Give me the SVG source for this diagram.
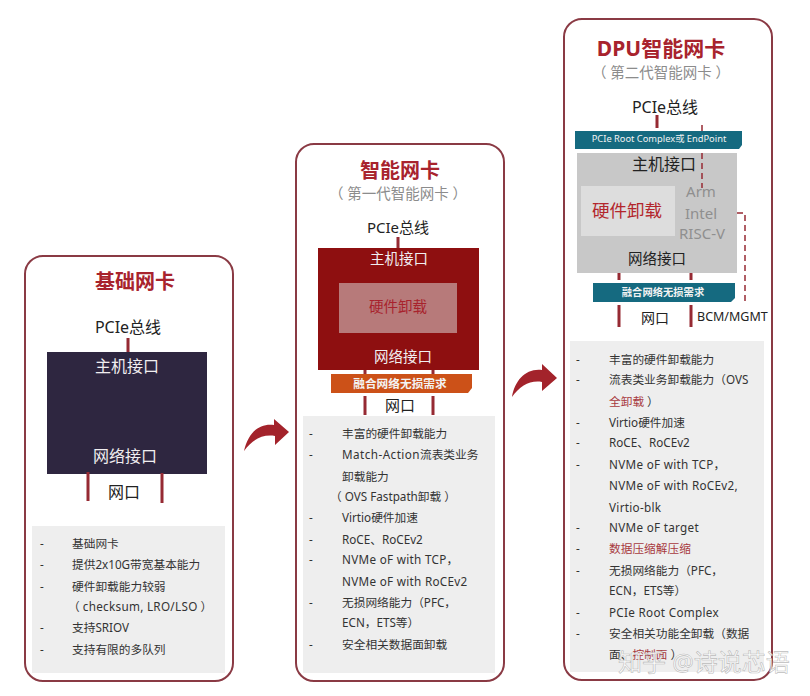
<svg xmlns="http://www.w3.org/2000/svg" width="810" height="696" viewBox="0 0 810 696">
<style>
text{font-family:"Noto Sans","Noto Sans CJK SC",sans-serif;fill:#222}
.card{fill:#fff;stroke:#8a3a44;stroke-width:2}
.panel{fill:#eeeeee}
.title{font-size:20px;font-weight:700;fill:#a8232d;text-anchor:middle}
.sub{font-size:14.5px;fill:#8c8c8c;text-anchor:middle}
.lab{font-size:16px;text-anchor:middle}
.w{fill:#f1eef0}
.li{font-size:11.7px;fill:#333}
.l{letter-spacing:.3px}
.red{fill:#a83a3f}
.band{font-size:11.7px;font-weight:700;fill:#f3f3f3;text-anchor:middle}
.conn{stroke:#962a33;stroke-width:3;fill:none}
.dash{stroke:#962a33;stroke-width:1.5;stroke-dasharray:6 4;fill:none}
.arrow{fill:#a3232b}
</style>
<rect width="810" height="696" fill="#fff"/>
<g id="card-basic">
<rect class="card" x="25" y="256" width="208" height="425" rx="18"/>
<text class="title" x="135" y="289">基础网卡</text>
<text class="lab" x="128" y="333">PCIe总线</text>
<rect x="47" y="352" width="160" height="122" fill="#2e2640"/>
<text class="lab w" x="127" y="372">主机接口</text>
<text class="lab w" x="125" y="462">网络接口</text>
<text class="lab" x="124" y="498">网口</text>
<rect class="panel" x="32" y="526" width="193" height="147"/>
<text class="li" x="40" y="548">-</text><text class="li" x="72" y="548">基础网卡</text>
<text class="li" x="40" y="569">-</text><text class="li" x="72" y="569">提供2x10G带宽基本能力</text>
<text class="li" x="40" y="591">-</text><text class="li" x="72" y="591">硬件卸载能力较弱</text>
<text class="li" x="68" y="611">（ <tspan class="l">checksum, LRO/LSO</tspan> ）</text>
<text class="li" x="40" y="632">-</text><text class="li" x="72" y="632">支持SRIOV</text>
<text class="li" x="40" y="654">-</text><text class="li" x="72" y="654">支持有限的多队列</text>
</g>
<g id="card-smart">
<rect class="card" x="296" y="144" width="208" height="537" rx="18"/>
<text class="title" x="400" y="178">智能网卡</text>
<text class="sub" x="398" y="199">（ 第一代智能网卡 ）</text>
<text class="lab" x="398" y="233" style="font-size:15px">PCIe总线</text>
<rect x="318" y="248" width="161" height="122" fill="#8e0f10"/>
<text class="lab w" x="399" y="264" style="font-size:14.5px">主机接口</text>
<rect x="339" y="283" width="118" height="50" fill="#b77a7a"/>
<text class="lab" x="398" y="312" style="fill:#a8232d;font-size:14.5px">硬件卸载</text>
<text class="lab w" x="403" y="362" style="font-size:14.5px">网络接口</text>
<path d="M331 374H472V388L468 393H331Z" fill="#cc5118"/>
<text class="band" x="400" y="388">融合网络无损需求</text>
<text class="lab" x="400" y="411" style="font-size:15px">网口</text>
<rect class="panel" x="303" y="416" width="192" height="257"/>
<text class="li" x="309" y="438">-</text><text class="li" x="342" y="438">丰富的硬件卸载能力</text>
<text class="li" x="309" y="459">-</text><text class="li" x="342" y="459"><tspan class="l" style="letter-spacing:.45px">Match-Action</tspan>流表类业务</text>
<text class="li" x="342" y="481">卸载能力</text>
<text class="li" x="330" y="501">（ OVS Fastpath卸载 ）</text>
<text class="li" x="309" y="522">-</text><text class="li" x="342" y="522">Virtio硬件加速</text>
<text class="li" x="309" y="544">-</text><text class="li" x="342" y="544">RoCE、RoCEv2</text>
<text class="li" x="309" y="564">-</text><text class="li" x="342" y="564"><tspan class="l">NVMe oF with TCP</tspan>，</text>
<text class="li l" x="342" y="586">NVMe oF with RoCEv2</text>
<text class="li" x="309" y="607">-</text><text class="li" x="342" y="607">无损网络能力（PFC，</text>
<text class="li" x="342" y="627">ECN，ETS等）</text>
<text class="li" x="309" y="649">-</text><text class="li" x="342" y="649">安全相关数据面卸载</text>
</g>
<g id="card-dpu">
<rect class="card" x="564" y="19" width="208" height="661" rx="18"/>
<text class="title" x="661" y="56" style="font-size:21px">DPU智能网卡</text>
<text class="sub" x="661" y="78">（ 第二代智能网卡 ）</text>
<text class="lab" x="665" y="113">PCIe总线</text>
<path d="M575 131H742V145L739 149H575Z" fill="#156a80"/>
<text class="band" x="659" y="142" style="font-size:9.3px;font-weight:400">PCIe Root Complex或 EndPoint</text>
<rect x="577" y="153" width="160" height="120" fill="#c8c8c8"/>
<text class="lab" x="664" y="170">主机接口</text>
<rect x="581" y="186" width="94" height="50" fill="#dddddd"/>
<text class="lab" x="627" y="217" style="fill:#b3262c;font-size:17.5px">硬件卸载</text>
<text class="lab" x="701" y="197" style="fill:#8f8f8f;font-size:15px">Arm</text>
<text class="lab" x="701" y="219" style="fill:#8f8f8f;font-size:15px">Intel</text>
<text class="lab" x="702" y="239" style="fill:#8f8f8f;font-size:15px">RISC-V</text>
<text class="lab" x="657" y="264" style="font-size:14.5px">网络接口</text>
<path d="M593 283H735V298L731 302H593Z" fill="#156a80"/>
<text class="band" x="663" y="296" style="font-size:10.3px">融合网络无损需求</text>
<text class="lab" x="655" y="323" style="font-size:14px">网口</text>
<text x="697" y="321" style="font-size:12.5px">BCM/MGMT</text>
<rect class="panel" x="570" y="341" width="194" height="331"/>
<text class="li" x="576" y="364">-</text><text class="li" x="609" y="364">丰富的硬件卸载能力</text>
<text class="li" x="576" y="384">-</text><text class="li" x="609" y="384">流表类业务卸载能力（OVS</text>
<text class="li red" x="609" y="406">全卸载<tspan style="fill:#333"> ）</tspan></text>
<text class="li" x="576" y="427">-</text><text class="li" x="609" y="427">Virtio硬件加速</text>
<text class="li" x="576" y="447">-</text><text class="li" x="609" y="447">RoCE、RoCEv2</text>
<text class="li" x="576" y="469">-</text><text class="li" x="609" y="469"><tspan class="l">NVMe oF with TCP</tspan>，</text>
<text class="li l" x="609" y="490">NVMe oF with RoCEv2,</text>
<text class="li l" x="609" y="512">Virtio-blk</text>
<text class="li" x="576" y="532">-</text><text class="li l" x="609" y="532">NVMe oF target</text>
<text class="li" x="576" y="553">-</text><text class="li red" x="609" y="553">数据压缩解压缩</text>
<text class="li" x="576" y="575">-</text><text class="li" x="609" y="575">无损网络能力（PFC，</text>
<text class="li" x="609" y="595">ECN，ETS等）</text>
<text class="li" x="576" y="617">-</text><text class="li l" x="609" y="617">PCIe Root Complex</text>
<text class="li" x="576" y="638">-</text><text class="li" x="609" y="638">安全相关功能全卸载（数据</text>
<text class="li" x="609" y="659">面、<tspan class="red" style="fill:#a83a3f">控制面</tspan> ）</text>
</g>
<g id="connectors">
<path class="conn" d="M128 338V352M88 472V501M162 473V503"/>
<path class="conn" d="M398 237V248M365 370V374M433 370V374M365 396V415M433 396V415"/>
<path class="conn" d="M657 115V128M619 273V280M691 273V280M619 305V327M691 305V327"/>
<path class="dash" d="M702 125V131M702 153V188"/>
<path class="dash" d="M737 213H745V304"/>
<path class="arrow" d="M244 451C248 434 258 423 274 425L274 419L289 432L275 445L275 436C262 434 252 440 244 451Z"/>
<path class="arrow" d="M512 397C515 380 526 368 542 370L542 364L557 378L542 391L542 382C530 380 520 386 512 397Z"/>
</g>
<text x="618" y="671" style="font-size:24px;fill:#ffffff;fill-opacity:.8;stroke:#8f8f8f;stroke-opacity:.6;stroke-width:.6">知乎 @诗说芯语</text>
</svg>
